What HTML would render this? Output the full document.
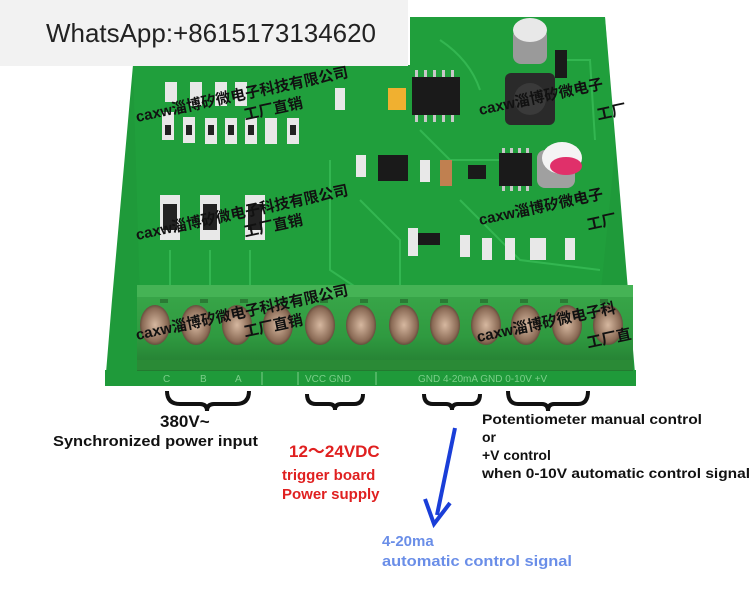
<!DOCTYPE html>
<html><head><meta charset="utf-8"><style>
html,body{margin:0;padding:0;background:#fff;width:750px;height:595px;overflow:hidden}
svg{display:block}
text{font-family:"Liberation Sans","Noto Sans CJK SC",sans-serif}
</style></head><body>
<svg width="750" height="595" viewBox="0 0 750 595" xmlns="http://www.w3.org/2000/svg">
<defs>
<linearGradient id="tb" x1="0" y1="0" x2="0" y2="1">
<stop offset="0" stop-color="#3aa84a"/><stop offset="0.6" stop-color="#2f9a40"/><stop offset="1" stop-color="#237a30"/>
</linearGradient>
<radialGradient id="scr" cx="0.5" cy="0.5" r="0.6">
<stop offset="0" stop-color="#d6b8a0"/><stop offset="0.7" stop-color="#8a6a55"/><stop offset="1" stop-color="#3a2a20"/>
</radialGradient>
</defs>
<!-- board -->
<polygon points="133,65 410,65 410,17 605,17 636,385 105,385 112,300" fill="#1f9a3a"/>
<polygon points="133,65 410,65 410,17 605,17 615,150 600,300 140,300" fill="#22a33e" opacity="0.6"/>
<!-- traces -->
<g stroke="#3cc05a" stroke-width="2" fill="none" opacity="0.7">
<path d="M170,300 L170,250 M210,300 L210,250 M250,300 L250,250"/>
<path d="M330,160 L330,270 L360,290 M360,200 L400,240 L400,290"/>
<path d="M420,130 L450,160 L520,160 M460,200 L520,260 L600,270"/>
<path d="M440,40 Q470,60 480,90 M560,60 L590,60 L595,140"/>
</g>
<!-- whatsapp box -->
<rect x="0" y="0" width="408" height="66" fill="#f2f2f2"/>
<text x="46" y="42" font-size="26" fill="#222" textLength="330" lengthAdjust="spacingAndGlyphs">WhatsApp:+8615173134620</text>
<!-- components -->
<rect x="388" y="88" width="18" height="22" fill="#f0b030"/>
<g fill="#c8c8c8">
<rect x="415" y="70" width="3" height="8"/><rect x="424" y="70" width="3" height="8"/><rect x="433" y="70" width="3" height="8"/><rect x="442" y="70" width="3" height="8"/><rect x="451" y="70" width="3" height="8"/>
<rect x="415" y="114" width="3" height="8"/><rect x="424" y="114" width="3" height="8"/><rect x="433" y="114" width="3" height="8"/><rect x="442" y="114" width="3" height="8"/><rect x="451" y="114" width="3" height="8"/>
<rect x="502" y="148" width="3" height="6"/><rect x="510" y="148" width="3" height="6"/><rect x="518" y="148" width="3" height="6"/><rect x="526" y="148" width="3" height="6"/>
<rect x="502" y="185" width="3" height="6"/><rect x="510" y="185" width="3" height="6"/><rect x="518" y="185" width="3" height="6"/><rect x="526" y="185" width="3" height="6"/>
</g>
<rect x="412" y="77" width="48" height="38" fill="#1a1a1a"/>
<rect x="499" y="153" width="33" height="33" fill="#1a1a1a"/>
<rect x="505" y="73" width="50" height="52" rx="6" fill="#2a2a2a"/>
<circle cx="530" cy="99" r="16" fill="#3a3a3a"/>
<rect x="555" y="50" width="12" height="28" fill="#1a1a1a"/>
<rect x="378" y="155" width="30" height="26" fill="#1a1a1a"/>
<rect x="440" y="160" width="12" height="26" fill="#c08050"/>
<rect x="468" y="165" width="18" height="14" fill="#1a1a1a"/>
<rect x="418" y="233" width="22" height="12" fill="#1a1a1a"/>
<!-- caps -->
<rect x="513" y="28" width="34" height="36" rx="8" fill="#9a9a9a"/>
<ellipse cx="530" cy="30" rx="17" ry="12" fill="#e8e8e8"/>
<rect x="537" y="150" width="38" height="38" rx="8" fill="#a0a0a0"/>
<ellipse cx="562" cy="158" rx="20" ry="16" fill="#f4f4f4"/>
<ellipse cx="566" cy="166" rx="16" ry="9" fill="#e0306a"/>
<!-- small resistors -->
<g fill="#e8e8e8">
<rect x="162" y="112" width="12" height="28"/><rect x="183" y="117" width="12" height="26"/><rect x="205" y="118" width="12" height="26"/><rect x="225" y="118" width="12" height="26"/><rect x="245" y="118" width="12" height="26"/><rect x="265" y="118" width="12" height="26"/><rect x="287" y="118" width="12" height="26"/>
<rect x="160" y="195" width="20" height="45"/><rect x="200" y="195" width="20" height="45"/><rect x="245" y="195" width="20" height="45"/>
<rect x="165" y="82" width="12" height="20"/><rect x="190" y="82" width="12" height="24"/><rect x="215" y="82" width="12" height="24"/><rect x="235" y="82" width="12" height="24"/>
<rect x="335" y="88" width="10" height="22"/><rect x="356" y="155" width="10" height="22"/><rect x="420" y="160" width="10" height="22"/><rect x="460" y="235" width="10" height="22"/><rect x="482" y="238" width="10" height="22"/><rect x="505" y="238" width="10" height="22"/><rect x="565" y="238" width="10" height="22"/><rect x="408" y="228" width="10" height="28"/><rect x="530" y="238" width="16" height="22"/>
</g>
<g fill="#222">
<rect x="163" y="204" width="14" height="26"/><rect x="203" y="204" width="14" height="26"/><rect x="248" y="204" width="14" height="26"/>
<rect x="165" y="125" width="6" height="10"/><rect x="186" y="125" width="6" height="10"/><rect x="208" y="125" width="6" height="10"/><rect x="228" y="125" width="6" height="10"/><rect x="248" y="125" width="6" height="10"/><rect x="290" y="125" width="6" height="10"/>
</g>
<!-- watermarks -->
<g fill="#111" font-weight="bold" font-size="15">
<text x="137" y="122" transform="rotate(-12 137 122)">caxw淄博矽微电子科技有限公司</text>
<text x="245" y="120" transform="rotate(-12 245 120)">工厂直销</text>
<text x="137" y="240" transform="rotate(-12 137 240)">caxw淄博矽微电子科技有限公司</text>
<text x="245" y="237" transform="rotate(-12 245 237)">工厂直销</text>
<text x="480" y="115" transform="rotate(-12 480 115)">caxw淄博矽微电子</text>
<text x="598" y="120" transform="rotate(-12 598 120)">工厂</text>
<text x="480" y="225" transform="rotate(-12 480 225)">caxw淄博矽微电子</text>
<text x="588" y="230" transform="rotate(-12 588 230)">工厂</text>
</g>
<!-- terminal block -->
<rect x="105" y="370" width="531" height="16" fill="#1f9a3a"/>
<rect x="137" y="285" width="496" height="86" fill="url(#tb)"/>
<rect x="137" y="285" width="496" height="12" fill="#45b355"/>
<rect x="137" y="360" width="496" height="10" fill="#2a8a36"/>
<g fill="#2a7a34">
<rect x="160" y="299" width="8" height="4"/><rect x="200" y="299" width="8" height="4"/><rect x="240" y="299" width="8" height="4"/><rect x="280" y="299" width="8" height="4"/><rect x="320" y="299" width="8" height="4"/><rect x="360" y="299" width="8" height="4"/><rect x="400" y="299" width="8" height="4"/><rect x="440" y="299" width="8" height="4"/><rect x="480" y="299" width="8" height="4"/><rect x="520" y="299" width="8" height="4"/><rect x="560" y="299" width="8" height="4"/><rect x="600" y="299" width="8" height="4"/>
</g>
<g fill="url(#scr)">
<ellipse cx="155" cy="325" rx="15" ry="20"/><ellipse cx="196" cy="325" rx="15" ry="20"/><ellipse cx="237" cy="325" rx="15" ry="20"/><ellipse cx="278" cy="325" rx="15" ry="20"/><ellipse cx="320" cy="325" rx="15" ry="20"/><ellipse cx="361" cy="325" rx="15" ry="20"/><ellipse cx="404" cy="325" rx="15" ry="20"/><ellipse cx="445" cy="325" rx="15" ry="20"/><ellipse cx="486" cy="325" rx="15" ry="20"/><ellipse cx="526" cy="325" rx="15" ry="20"/><ellipse cx="567" cy="325" rx="15" ry="20"/><ellipse cx="608" cy="325" rx="15" ry="20"/>
</g>
<g fill="#111" font-weight="bold" font-size="15">
<text x="137" y="340" transform="rotate(-12 137 340)">caxw淄博矽微电子科技有限公司</text>
<text x="245" y="337" transform="rotate(-12 245 337)">工厂直销</text>
<text x="478" y="342" transform="rotate(-12 478 342)">caxw淄博矽微电子科</text>
<text x="588" y="348" transform="rotate(-12 588 348)">工厂直</text>
</g>
<g fill="#7ccf8a" font-size="10">
<text x="163" y="382">C</text><text x="200" y="382">B</text><text x="235" y="382">A</text>
<text x="305" y="382">VCC  GND</text>
<text x="418" y="382">GND 4-20mA GND 0-10V +V</text>
</g>
<g stroke="#7ccf8a" stroke-width="1"><line x1="262" y1="372" x2="262" y2="385"/><line x1="298" y1="372" x2="298" y2="385"/><line x1="376" y1="372" x2="376" y2="385"/></g>
<!-- braces -->
<g stroke="#111" stroke-width="4" fill="none">
<path d="M167,391 Q167,404 180,404 L200,404 Q207,404 207,411 Q207,404 214,404 L236,404 Q249,404 249,391"/>
<path d="M307,394 Q307,404 316,404 L329,404 Q335,404 335,410 Q335,404 341,404 L354,404 Q363,404 363,394"/>
<path d="M424,394 Q424,404 433,404 L446,404 Q452,404 452,410 Q452,404 458,404 L471,404 Q480,404 480,394"/>
<path d="M508,391 Q508,404 518,404 L542,404 Q548,404 548,411 Q548,404 554,404 L578,404 Q588,404 588,391"/>
</g>
<!-- labels -->
<text x="160" y="427" font-size="17" font-weight="bold" fill="#111">380V~</text>
<text x="53" y="446" font-size="15" font-weight="bold" fill="#111" textLength="205" lengthAdjust="spacingAndGlyphs">Synchronized power input</text>
<text x="289" y="457" font-size="17" font-weight="bold" fill="#e02020">12～24VDC</text>
<text x="282" y="480" font-size="15" font-weight="bold" fill="#e02020">trigger board</text>
<text x="282" y="499" font-size="15" font-weight="bold" fill="#e02020">Power supply</text>
<g font-size="14" font-weight="bold" fill="#111">
<text x="482" y="424" textLength="220" lengthAdjust="spacingAndGlyphs">Potentiometer manual control</text>
<text x="482" y="442">or</text>
<text x="482" y="460">+V control</text>
<text x="482" y="478" textLength="268" lengthAdjust="spacingAndGlyphs">when 0-10V automatic control signal</text>
</g>
<line x1="455" y1="428" x2="437" y2="515" stroke="#1a3ed8" stroke-width="4"/>
<path d="M425,499 L434,524 L450,503" stroke="#1a3ed8" stroke-width="4" fill="none"/>
<g font-size="15" font-weight="bold" fill="#6a8ee8">
<text x="382" y="546">4-20ma</text>
<text x="382" y="566" textLength="190" lengthAdjust="spacingAndGlyphs">automatic control signal</text>
</g>
</svg>
</body></html>
